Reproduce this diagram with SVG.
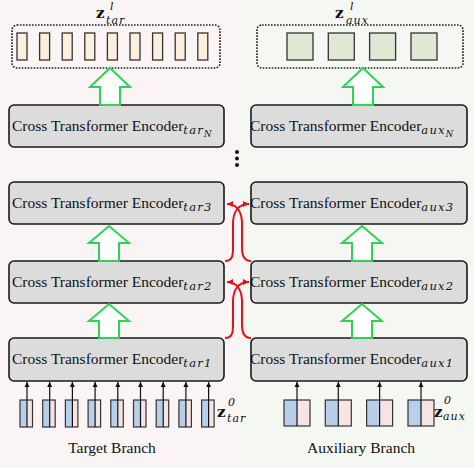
<svg xmlns="http://www.w3.org/2000/svg" width="474" height="468" viewBox="0 0 474 468">
<defs>
<style>
text,tspan{font-family:"Liberation Serif","DejaVu Serif","Times New Roman",serif;fill:#111}
.enc{fill:#dcdcdc;stroke:#1a1a1a;stroke-width:1.6}
.lbl{font-size:15.5px}
.sub{font-family:"DejaVu Serif",serif;font-style:italic;font-size:11.5px;letter-spacing:1.2px}
.subn{font-family:"DejaVu Serif",serif;font-style:italic;font-size:8.5px}
.dot{fill:none;stroke:#222;stroke-width:1.6;stroke-dasharray:1.6 1.4}
.tokT{fill:#fcefdb;stroke:#333;stroke-width:1.3}
.tokA{fill:#e0e7d2;stroke:#333;stroke-width:1.3}
.blue{fill:#b7cfe8;stroke:none}
.pink{fill:#f7e3e3;stroke:none}
.tokO{fill:none;stroke:#333;stroke-width:1.2}
.in{stroke:#111;stroke-width:1.2;fill:none;marker-end:url(#ab)}
.grn{fill:#fff;stroke:#2fd158;stroke-width:2}
.red{fill:none;stroke:#e5101c;stroke-width:2;marker-end:url(#ar)}
.z{font-family:"DejaVu Serif",serif;font-weight:bold;font-size:15px}
.zs{font-family:"DejaVu Serif",serif;font-style:italic;font-size:11px;letter-spacing:1px}
</style>
<marker id="ab" markerWidth="6" markerHeight="6" refX="5" refY="3" orient="auto" markerUnits="userSpaceOnUse"><path d="M0,0.5 L5,3 L0,5.5 z" fill="#111"/></marker>
<marker id="ar" markerWidth="7" markerHeight="7" refX="6" refY="3.5" orient="auto" markerUnits="userSpaceOnUse"><path d="M0,0.5 L6,3.5 L0,6.5 z" fill="#e5101c"/></marker>
</defs>
<rect x="0" y="0" width="239" height="468" fill="#fbf4f4"/>
<rect x="239" y="0" width="235" height="468" fill="#f5f8f2"/>

<g id="out-tar">
<rect class="dot" x="12" y="25" width="208" height="43" rx="5"/>
<rect class="tokT" x="17" y="33" width="10" height="27"/>
<rect class="tokT" x="39.6" y="33" width="10" height="27"/>
<rect class="tokT" x="62.2" y="33" width="10" height="27"/>
<rect class="tokT" x="84.8" y="33" width="10" height="27"/>
<rect class="tokT" x="107.4" y="33" width="10" height="27"/>
<rect class="tokT" x="130" y="33" width="10" height="27"/>
<rect class="tokT" x="152.6" y="33" width="10" height="27"/>
<rect class="tokT" x="175.2" y="33" width="10" height="27"/>
<rect class="tokT" x="197.8" y="33" width="10" height="27"/>
<text class="z" x="96" y="18">z</text>
<text class="zs" x="110" y="10">l</text>
<text class="zs" x="106" y="24">tar</text>
</g>

<g id="out-aux">
<rect class="dot" x="257" y="25" width="206" height="43" rx="5"/>
<rect class="tokA" x="287" y="33" width="26" height="27"/>
<rect class="tokA" x="328.3" y="33" width="26" height="27"/>
<rect class="tokA" x="369.6" y="33" width="26" height="27"/>
<rect class="tokA" x="411" y="33" width="26" height="27"/>
<text class="z" x="335" y="18">z</text>
<text class="zs" x="350" y="10">l</text>
<text class="zs" x="346" y="24">aux</text>
</g>

<g id="enc-tar-N"><rect class="enc" x="9" y="105" width="215" height="42" rx="5"/>
<text class="lbl" x="12" y="131">Cross Transformer Encoder<tspan class="sub" dy="3">tar</tspan><tspan class="subn" dy="3">N</tspan></text></g>
<g id="enc-tar-3"><rect class="enc" x="9" y="182" width="215" height="42" rx="5"/>
<text class="lbl" x="12" y="208">Cross Transformer Encoder<tspan class="sub" dy="3">tar3</tspan></text></g>
<g id="enc-tar-2"><rect class="enc" x="9" y="261" width="215" height="42" rx="5"/>
<text class="lbl" x="12" y="287">Cross Transformer Encoder<tspan class="sub" dy="3">tar2</tspan></text></g>
<g id="enc-tar-1"><rect class="enc" x="9" y="338" width="215" height="43" rx="5"/>
<text class="lbl" x="12" y="364">Cross Transformer Encoder<tspan class="sub" dy="3">tar1</tspan></text></g>

<g id="enc-aux-N"><rect class="enc" x="251" y="105" width="216" height="42" rx="5"/>
<text class="lbl" x="250" y="131">Cross Transformer Encoder<tspan class="sub" dy="3">aux</tspan><tspan class="subn" dy="3">N</tspan></text></g>
<g id="enc-aux-3"><rect class="enc" x="251" y="182" width="216" height="42" rx="5"/>
<text class="lbl" x="250" y="208">Cross Transformer Encoder<tspan class="sub" dy="3">aux3</tspan></text></g>
<g id="enc-aux-2"><rect class="enc" x="251" y="261" width="216" height="42" rx="5"/>
<text class="lbl" x="250" y="287">Cross Transformer Encoder<tspan class="sub" dy="3">aux2</tspan></text></g>
<g id="enc-aux-1"><rect class="enc" x="251" y="338" width="216" height="43" rx="5"/>
<text class="lbl" x="250" y="364">Cross Transformer Encoder<tspan class="sub" dy="3">aux1</tspan></text></g>

<g id="ellipsis" fill="#111">
<circle cx="237" cy="152" r="2"/><circle cx="237" cy="158.5" r="2"/><circle cx="237" cy="165" r="2"/>
</g>

<g id="in-tar">
<g transform="translate(20,0)"><rect class="blue" x="0" y="400" width="7" height="27"/><rect class="pink" x="7" y="400" width="5.5" height="27"/><rect class="tokO" x="0" y="400" width="12.5" height="27"/></g>
<g transform="translate(42.7,0)"><rect class="blue" x="0" y="400" width="7" height="27"/><rect class="pink" x="7" y="400" width="5.5" height="27"/><rect class="tokO" x="0" y="400" width="12.5" height="27"/></g>
<g transform="translate(65.4,0)"><rect class="blue" x="0" y="400" width="7" height="27"/><rect class="pink" x="7" y="400" width="5.5" height="27"/><rect class="tokO" x="0" y="400" width="12.5" height="27"/></g>
<g transform="translate(88.1,0)"><rect class="blue" x="0" y="400" width="7" height="27"/><rect class="pink" x="7" y="400" width="5.5" height="27"/><rect class="tokO" x="0" y="400" width="12.5" height="27"/></g>
<g transform="translate(110.8,0)"><rect class="blue" x="0" y="400" width="7" height="27"/><rect class="pink" x="7" y="400" width="5.5" height="27"/><rect class="tokO" x="0" y="400" width="12.5" height="27"/></g>
<g transform="translate(133.5,0)"><rect class="blue" x="0" y="400" width="7" height="27"/><rect class="pink" x="7" y="400" width="5.5" height="27"/><rect class="tokO" x="0" y="400" width="12.5" height="27"/></g>
<g transform="translate(156.2,0)"><rect class="blue" x="0" y="400" width="7" height="27"/><rect class="pink" x="7" y="400" width="5.5" height="27"/><rect class="tokO" x="0" y="400" width="12.5" height="27"/></g>
<g transform="translate(178.9,0)"><rect class="blue" x="0" y="400" width="7" height="27"/><rect class="pink" x="7" y="400" width="5.5" height="27"/><rect class="tokO" x="0" y="400" width="12.5" height="27"/></g>
<g transform="translate(201.6,0)"><rect class="blue" x="0" y="400" width="7" height="27"/><rect class="pink" x="7" y="400" width="5.5" height="27"/><rect class="tokO" x="0" y="400" width="12.5" height="27"/></g>
<text class="z" x="217" y="417">z</text>
<text class="zs" x="228" y="406">0</text>
<text class="zs" x="227" y="422">tar</text>
</g>

<g id="in-aux">
<g transform="translate(284,0)"><rect class="blue" x="0" y="400" width="13" height="26"/><rect class="pink" x="13" y="400" width="13" height="26"/><rect class="tokO" x="0" y="400" width="26" height="26"/></g>
<g transform="translate(325.3,0)"><rect class="blue" x="0" y="400" width="13" height="26"/><rect class="pink" x="13" y="400" width="13" height="26"/><rect class="tokO" x="0" y="400" width="26" height="26"/></g>
<g transform="translate(366.6,0)"><rect class="blue" x="0" y="400" width="13" height="26"/><rect class="pink" x="13" y="400" width="13" height="26"/><rect class="tokO" x="0" y="400" width="26" height="26"/></g>
<g transform="translate(408,0)"><rect class="blue" x="0" y="400" width="13" height="26"/><rect class="pink" x="13" y="400" width="13" height="26"/><rect class="tokO" x="0" y="400" width="26" height="26"/></g>
<text class="z" x="434" y="417">z</text>
<text class="zs" x="444" y="404">0</text>
<text class="zs" x="443" y="420">aux</text>
</g>

<text class="lbl" x="112" y="453" text-anchor="middle">Target Branch</text>
<text class="lbl" x="361" y="453" text-anchor="middle">Auxiliary Branch</text>

<g id="connectors">
<polygon class="grn" points="100,105 100,87 90,87 110,68 130,87 120,87 120,105"/>
<polygon class="grn" points="353,105 353,87 343,87 363,68 383,87 373,87 373,105"/>
<polygon class="grn" points="99,261 99,243 89,243 109,226 129,243 119,243 119,261"/>
<polygon class="grn" points="352,261 352,243 342,243 362,226 382,243 372,243 372,261"/>
<polygon class="grn" points="99,338 99,321 89,321 109,304 129,321 119,321 119,338"/>
<polygon class="grn" points="352,338 352,321 342,321 362,304 382,321 372,321 372,338"/>

<path class="red" d="M225,261 C232,261 233,256 233,248 L233,224 C233,212 238,204 249,204"/>
<path class="red" d="M251,261 C244,261 242,256 242,248 L242,224 C242,212 237,204 227,204"/>
<path class="red" d="M225,338 C232,338 233,333 233,325 L233,302 C233,290 238,282 249,282"/>
<path class="red" d="M251,338 C244,338 242,333 242,325 L242,302 C242,290 237,282 227,282"/>

<path class="in" d="M27,427 V382"/>
<path class="in" d="M49.7,427 V382"/>
<path class="in" d="M72.4,427 V382"/>
<path class="in" d="M95.1,427 V382"/>
<path class="in" d="M117.8,427 V382"/>
<path class="in" d="M140.5,427 V382"/>
<path class="in" d="M163.2,427 V382"/>
<path class="in" d="M185.9,427 V382"/>
<path class="in" d="M208.6,427 V382"/>
<path class="in" d="M297,426 V382"/>
<path class="in" d="M338.3,426 V382"/>
<path class="in" d="M379.6,426 V382"/>
<path class="in" d="M421,426 V382"/>
</g>
</svg>
